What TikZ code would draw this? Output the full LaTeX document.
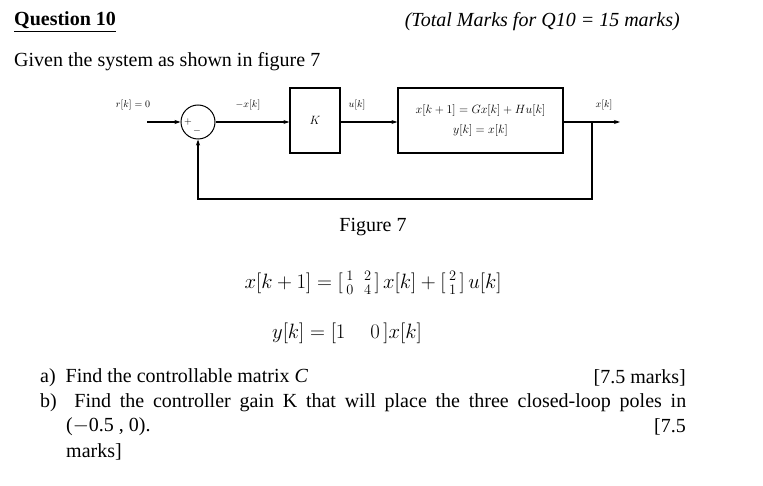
\documentclass[tikz,border=0pt]{standalone}
\usepackage{amsmath}
\usepackage{fontspec}
\setmainfont{Liberation Serif}
\usetikzlibrary{arrows.meta}
\begin{document}
\begin{tikzpicture}[x=1pt,y=-1pt,
  blk/.style={draw,line width=1.2pt,inner sep=0},
  sig/.style={line width=1.1pt,-{Stealth[length=6pt,width=4pt]}},
  lab/.style={font=\fontsize{10}{12}\selectfont,inner sep=1pt},
  txt/.style={font=\fontsize{20}{23}\selectfont,inner sep=0}]
\useasboundingbox (0,0) rectangle (763,486);
\node[txt,anchor=west] (q) at (14,22) {\textbf{\underline{Question 10}}};
\node[txt,anchor=east] (tm) at (680,22) {\textit{(Total Marks for Q10 = 15 marks)}};
\node[txt,anchor=west] (g) at (14,62) {Given the system as shown in figure 7};
% diagram
\coordinate (in) at (147,122);
\node[draw,circle,line width=1pt,minimum size=34pt,inner sep=0] (s) at (198,122) {};
\node[lab] at (188,122) {$+$};
\node[lab] at (197,131) {$-$};
\node[blk,minimum width=50pt,minimum height=65pt,font=\fontsize{13}{15}\selectfont] (K) at (315,120.5) {$K$};
\node[blk,minimum width=165pt,minimum height=65pt,align=center,font=\fontsize{12}{14}\selectfont] (P) at (480.5,120.5)
  {$x[k+1]=Gx[k]+Hu[k]$\\[6pt]$y[k]=x[k]$};
\coordinate (out) at (620,122);
\coordinate (br) at (592,122);
\coordinate (b1) at (592,199);
\coordinate (b2) at (198,199);
\draw[sig] (in) -- (s.west);
\draw[sig] (s.east) -- (K.west |- s.east);
\draw[sig] (K.east |- s.east) -- (P.west |- s.east);
\draw[sig] (P.east |- s.east) -- (out);
\draw[sig] (br) -- (b1) -- (b2) -- (s.south);
\node[lab] at (133,105) {$r[k]=0$};
\node[lab] at (248,105) {$-x[k]$};
\node[lab] at (357,105) {$u[k]$};
\node[lab] at (604,105) {$x[k]$};
\node[txt] (f7) at (373,227) {Figure 7};
\node[txt] (e1) at (373,283) {$x[k+1]=\left[\begin{smallmatrix}1&\ 2\\[2pt]0&\ 4\end{smallmatrix}\right]x[k]+\left[\begin{smallmatrix}2\\[2pt]1\end{smallmatrix}\right]u[k]$};
\node[txt] (e2) at (347,333) {$y[k]=[1\quad\ 0\,]x[k]$};
\node[txt,anchor=west] (a) at (40,378) {a)\ \ Find the controllable matrix \textit{C}};
\node[txt,anchor=east] (am) at (686,378) {[7.5 marks]};
\node[txt,anchor=west] (b) at (40,403) {\makebox[646pt][s]{b)\ \ Find the controller gain K that will place the three closed-loop poles in}};
\node[txt,anchor=west] (b2t) at (66,427) {($-$0.5 , 0).};
\node[txt,anchor=east] (bm) at (686,427) {[7.5};
\node[txt,anchor=west] (b3) at (66,452) {marks]};
\end{tikzpicture}
\end{document}
